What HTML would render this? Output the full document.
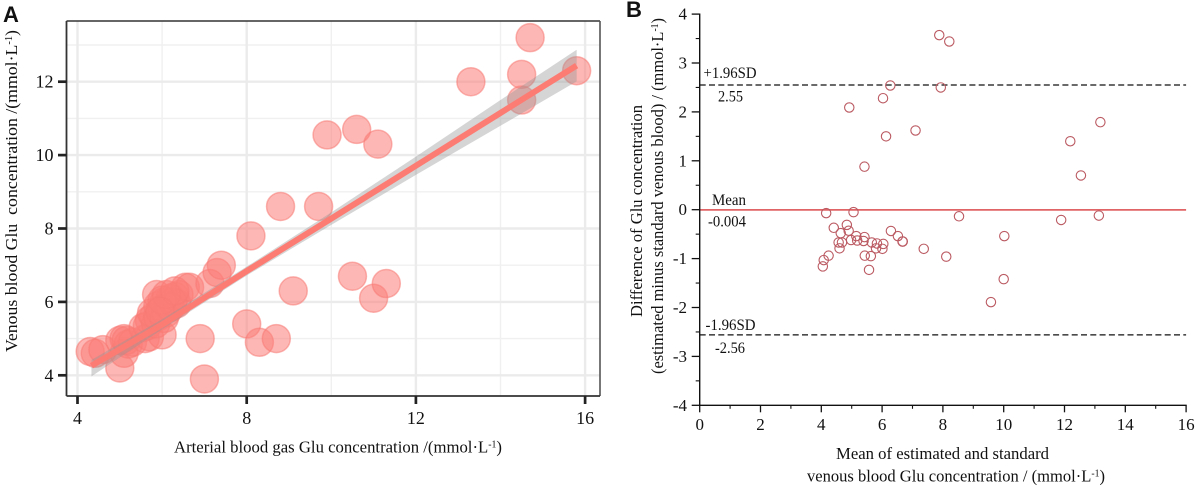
<!DOCTYPE html>
<html lang="en">
<head>
<meta charset="utf-8">
<title>Glu concentration correlation and Bland-Altman charts</title>
<style>
html,body{margin:0;padding:0;background:#fff;width:1200px;height:493px;overflow:hidden}
svg{display:block;filter:blur(.3px)}
text{font-family:"Liberation Serif",serif;fill:#111}
.panel-letter{font-family:"Liberation Sans",sans-serif;font-weight:700;font-size:22px;fill:#111}
.tick-a{font-size:18px}
.tick-b{font-size:17px}
.title{font-size:17px}
.note{font-size:15.5px}
</style>
</head>
<body>
<svg id="chart" xmlns="http://www.w3.org/2000/svg" width="1200" height="493" viewBox="0 0 1200 493">
  <rect x="0" y="0" width="1200" height="493" fill="#fff"/>
  <g id="panelA"></g>
  <g id="panelB"></g>

  <text class="panel-letter" x="3" y="22">A</text>
  <text class="panel-letter" x="626" y="17">B</text>

  <text class="title" transform="translate(17,352) rotate(-90)" textLength="322" lengthAdjust="spacingAndGlyphs">Venous blood Glu&#160;&#160;concentration /(mmol·L<tspan font-size="10" dy="-5">-1</tspan><tspan dy="5">)</tspan></text>
  <text class="title" x="174" y="452.5" textLength="328" lengthAdjust="spacingAndGlyphs">Arterial blood gas Glu concentration /(mmol·L<tspan font-size="10" dy="-5">-1</tspan><tspan dy="5">)</tspan></text>

  <text class="title" transform="translate(642,317) rotate(-90)" textLength="212" lengthAdjust="spacingAndGlyphs">Difference of Glu concentration</text>
  <text class="title" transform="translate(663,374) rotate(-90)" textLength="356" lengthAdjust="spacingAndGlyphs">(estimated minus standard venous blood) / (mmol·L<tspan font-size="10" dy="-5">-1</tspan><tspan dy="5">)</tspan></text>
  <text class="title" x="836" y="459" textLength="213" lengthAdjust="spacingAndGlyphs">Mean of estimated and standard</text>
  <text class="title" x="807" y="481.5" textLength="298" lengthAdjust="spacingAndGlyphs">venous blood Glu concentration / (mmol·L<tspan font-size="10" dy="-5">-1</tspan><tspan dy="5">)</tspan></text>

  <text class="note" x="703.5" y="78" textLength="53" lengthAdjust="spacingAndGlyphs">+1.96SD</text>
  <text class="note" x="718" y="101.5" textLength="25" lengthAdjust="spacingAndGlyphs">2.55</text>
  <text class="note" x="712" y="205" textLength="34" lengthAdjust="spacingAndGlyphs">Mean</text>
  <text class="note" x="708" y="226.5" textLength="38" lengthAdjust="spacingAndGlyphs">-0.004</text>
  <text class="note" x="705.5" y="330" textLength="50" lengthAdjust="spacingAndGlyphs">-1.96SD</text>
  <text class="note" x="715" y="353" textLength="30" lengthAdjust="spacingAndGlyphs">-2.56</text>
</svg>
<script>
// Panel A data
const aMajorXTicks = [4, 8, 12, 16];
const aMinorXTicks = [6, 10, 14];
const aMajorYTicks = [4, 6, 8, 10, 12];
const aMinorYTicks = [5, 7, 9, 11, 13];
const aPointsX = [4.3, 4.42, 4.6, 5, 5.1, 5, 5.1, 5.2, 5.3, 5.15, 5.6, 5.7, 6, 5.55, 5.7, 5.8, 5.65, 5.85, 5.75, 5.9, 5.87, 6, 6.1, 6.05, 6.15, 6.2, 6.3, 6.4, 6.35, 6.55, 6.65, 5.9, 6.05, 6.2, 6.25, 6, 6.1, 6.3, 5.95, 7.13, 7.3, 7.4, 6.9, 7, 8, 8.3, 8.7, 9.1, 8.1, 8.8, 9.7, 9.9, 10.6, 11.1, 10.5, 11, 11.3, 13.3, 14.5, 14.5, 14.7, 15.8];
const aPointsY = [4.65, 4.6, 4.7, 4.2, 4.6, 4.95, 5, 4.85, 4.9, 4.95, 5, 5.05, 5.1, 5.3, 5.5, 5.6, 5.35, 5.4, 5.7, 5.9, 6.2, 5.8, 5.7, 6, 5.9, 6.1, 6.15, 6.2, 5.95, 6.4, 6.4, 5.6, 5.55, 5.85, 6, 6.05, 6.2, 6.3, 5.75, 6.5, 6.8, 7, 5, 3.9, 5.4, 4.9, 5, 6.3, 7.8, 8.6, 8.6, 10.55, 10.7, 10.3, 6.7, 6.1, 6.5, 12, 11.5, 12.2, 13.2, 12.3];
const aFitX = [4.33, 6, 8, 10, 12, 14, 15.8];
const aFitY = [4.26, 5.38, 6.84, 8.27, 9.71, 11.15, 12.44];
const aBandLow = [3.97, 5.25, 6.72, 8.1, 9.46, 10.8, 12.01];
const aBandHigh = [4.42, 5.53, 6.96, 8.44, 9.96, 11.5, 12.87];

// Panel B data
const bXLabels = [0, 2, 4, 6, 8, 10, 12, 14, 16];
const bXMinor = [1, 3, 5, 7, 9, 11, 13, 15];
const bYLabels = [4, 3, 2, 1, 0, -1, -2, -3, -4];
const bYMinor = [3.5, 2.5, 1.5, 0.5, -0.5, -1.5, -2.5, -3.5];
const bMeanValue = -0.004;
const bUpperLimit = 2.55;
const bLowerLimit = -2.56;
const bPointsX = [7.88, 8.21, 7.93, 7.1, 12.19, 13.18, 12.54, 8.53, 11.89, 13.13, 10.02, 9.58, 10, 8.11, 7.37, 6.68, 6.27, 6.03, 4.92, 6.13, 5.42, 4.16, 5.06, 4.41, 4.84, 4.9, 4.64, 5.15, 5.42, 4.98, 5.18, 5.39, 4.57, 4.68, 4.6, 5.66, 5.83, 5.8, 6.01, 6.04, 6.29, 6.52, 6.67, 4.24, 4.08, 4.05, 5.43, 5.63, 5.57];
const bPointsY = [3.57, 3.44, 2.5, 1.62, 1.4, 1.79, 0.7, -0.135, -0.21, -0.12, -0.54, -1.89, -1.42, -0.96, -0.8, -0.65, 2.54, 2.28, 2.09, 1.5, 0.88, -0.07, -0.05, -0.37, -0.31, -0.43, -0.48, -0.54, -0.56, -0.62, -0.63, -0.64, -0.67, -0.67, -0.79, -0.67, -0.69, -0.79, -0.8, -0.7, -0.435, -0.54, -0.65, -0.94, -1.03, -1.16, -0.94, -0.95, -1.23];

const SVG_NS = 'http://www.w3.org/2000/svg';
const panelA = document.getElementById('panelA');
const panelB = document.getElementById('panelB');

function xA(v) { return 77.5 + (v - 4) * 42.3; }
function yA(v) { return 375.3 - (v - 4) * 36.7; }
function xB(v) { return 699.7 + v * 30.4; }
function yB(v) { return 209.7 - v * 48.9; }

function make(parent, tag, props) {
  const el = document.createElementNS(SVG_NS, tag);
  for (const k in props) el.setAttribute(k, props[k]);
  parent.appendChild(el);
  return el;
}
function lineEl(parent, x1, y1, x2, y2, stroke, width) {
  return make(parent, 'line', { x1: x1, y1: y1, x2: x2, y2: y2, stroke: stroke, 'stroke-width': width });
}
function textEl(parent, x, y, str, cls, anchor) {
  const t = make(parent, 'text', { x: x, y: y, class: cls, 'text-anchor': anchor });
  t.textContent = str;
  return t;
}

// ---------- Panel A ----------
const aLeft = 66.5, aRight = 600, aTop = 21, aBottom = 396;

aMinorYTicks.forEach(function (v) {
  const g = lineEl(panelA, aLeft, yA(v), aRight, yA(v), '#f0f0f0', 1.4);
  
  
});
aMinorXTicks.forEach(function (v) {
  const g = lineEl(panelA, xA(v), aTop, xA(v), aBottom, '#f0f0f0', 1.4);
  
  
});
aMajorYTicks.forEach(function (v) {
  const g = lineEl(panelA, aLeft, yA(v), aRight, yA(v), '#ebebeb', 2.4);
  
  
});
aMajorXTicks.forEach(function (v) {
  const g = lineEl(panelA, xA(v), aTop, xA(v), aBottom, '#ebebeb', 2.4);
  
  
});

aPointsX.forEach(function (v, i) {
  const c = make(panelA, 'circle', { cx: xA(v), cy: yA(aPointsY[i]), r: 14, fill: 'rgba(251,125,120,.55)', stroke: 'rgba(248,122,116,.55)', 'stroke-width': 1.5 });
  
  
});

const upperEdge = aFitX.map(function (v, i) { return xA(v) + ',' + yA(aBandHigh[i]); });
const lowerEdge = aFitX.map(function (v, i) { return xA(v) + ',' + yA(aBandLow[i]); }).reverse();
const band = make(panelA, 'polygon', { points: upperEdge.concat(lowerEdge).join(' '), fill: 'rgba(150,150,150,.4)' });



const fit = make(panelA, 'polyline', { points: aFitX.map(function (v, i) { return xA(v) + ',' + yA(aFitY[i]); }).join(' '), fill: 'none', stroke: '#fc7c74', 'stroke-width': 6 });



const frameTop = lineEl(panelA, aLeft, aTop, aRight, aTop, '#333', 1.6);


const frameRight = lineEl(panelA, aRight, aTop, aRight, aBottom, '#555', 1.6);


const frameBottom = lineEl(panelA, aLeft, aBottom, aRight, aBottom, '#333', 1.8);


const frameLeft = lineEl(panelA, aLeft, aTop, aLeft, aBottom, '#333', 1.8);



aMajorYTicks.forEach(function (v) {
  const t = lineEl(panelA, 58, yA(v), aLeft, yA(v), '#222', 2.7);
  
  
  const l = textEl(panelA, 53.5, yA(v) + 6, String(v), 'tick-a', 'end');
  
  
});
aMajorXTicks.forEach(function (v) {
  const t = lineEl(panelA, xA(v), aBottom, xA(v), 404, '#222', 2.7);
  
  
  const l = textEl(panelA, xA(v), 424, String(v), 'tick-a', 'middle');
  
  
});

// ---------- Panel B ----------
const meanLine = lineEl(panelB, xB(0), yB(bMeanValue), xB(16), yB(bMeanValue), '#e06466', 1.8);



const upperLine = lineEl(panelB, xB(0), yB(bUpperLimit), xB(16), yB(bUpperLimit), '#111', 1.3);
upperLine.setAttribute('stroke-dasharray', '6 3.3');



const lowerLine = lineEl(panelB, xB(0), yB(bLowerLimit), xB(16), yB(bLowerLimit), '#111', 1.3);
lowerLine.setAttribute('stroke-dasharray', '6 3.3');



bPointsX.forEach(function (v, i) {
  const c = make(panelB, 'circle', { cx: xB(v), cy: yB(bPointsY[i]), r: 4.7, fill: 'none', stroke: '#bb5a62', 'stroke-width': 1.1 });
  
  
});

const ySpine = lineEl(panelB, xB(0), yB(4) - 0.6, xB(0), yB(-4) + 0.6, '#111', 1.4);


const xSpine = lineEl(panelB, xB(0), yB(-4), xB(16) + 0.6, yB(-4), '#111', 1.4);



bYLabels.forEach(function (v) {
  const t = lineEl(panelB, xB(0) - 8, yB(v), xB(0), yB(v), '#111', 1.3);
  
  
  const l = textEl(panelB, 687, yB(v) + 5.5, String(v), 'tick-b', 'end');
  
  
});
bYMinor.forEach(function (v) {
  const t = lineEl(panelB, xB(0) - 4, yB(v), xB(0), yB(v), '#111', 1.1);
  
  
});
bXLabels.forEach(function (v) {
  const t = lineEl(panelB, xB(v), yB(-4), xB(v), yB(-4) + 7, '#111', 1.3);
  
  
  const l = textEl(panelB, xB(v), 430, String(v), 'tick-b', 'middle');
  
  
});
bXMinor.forEach(function (v) {
  const t = lineEl(panelB, xB(v), yB(-4), xB(v), yB(-4) + 3.5, '#111', 1.1);
  
  
});
</script>
</body>
</html>
